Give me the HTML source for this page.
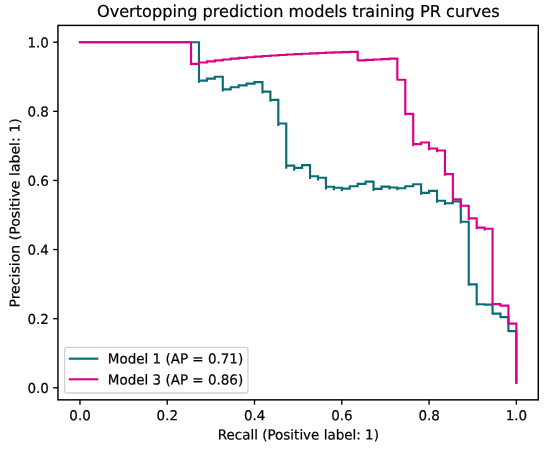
<!DOCTYPE html>
<html lang="en"><head><meta charset="utf-8"><title>Overtopping prediction models training PR curves</title>
<style>html,body{margin:0;padding:0;background:#fff}body{width:550px;height:449px;overflow:hidden}</style></head>
<body>
<svg width="550" height="449" viewBox="0 0 550 449" style="display:block;font-family:'DejaVu Sans','Liberation Sans',sans-serif">
<rect width="550" height="449" fill="#fff"/>
<path d="M79.95,42.20 L87.88,42.20 L95.82,42.20 L103.75,42.20 L111.69,42.20 L119.62,42.20 L127.56,42.20 L135.49,42.20 L143.43,42.20 L151.36,42.20 L159.30,42.20 L167.23,42.20 L175.16,42.20 L183.10,42.20 L191.03,42.20 L198.97,42.20 L198.97,82.86 L198.97,80.60 L206.90,80.60 L206.90,78.58 L214.84,78.58 L214.84,76.76 L222.77,76.76 L222.77,91.57 L222.77,89.33 L230.71,89.33 L230.71,87.28 L238.64,87.28 L238.64,85.40 L246.58,85.40 L246.58,83.67 L254.51,83.67 L254.51,82.08 L262.44,82.08 L262.44,93.40 L262.44,91.57 L270.38,91.57 L270.38,101.79 L270.38,99.80 L278.31,99.80 L278.31,125.98 L278.31,123.52 L286.25,123.52 L286.25,168.64 L286.25,165.63 L294.18,165.63 L294.18,170.80 L294.18,167.87 L302.12,167.87 L302.12,165.08 L310.05,165.08 L310.05,179.00 L310.05,176.21 L317.99,176.21 L317.99,180.44 L317.99,177.73 L325.92,177.73 L325.92,189.40 L325.92,186.72 L333.86,186.72 L333.86,190.31 L333.86,187.72 L341.79,187.72 L341.79,191.17 L341.79,188.64 L349.72,188.64 L349.72,186.20 L357.66,186.20 L357.66,183.84 L365.59,183.84 L365.59,181.55 L373.53,181.55 L373.53,191.07 L373.53,188.82 L381.46,188.82 L381.46,186.63 L389.40,186.63 L389.40,189.59 L389.40,187.45 L397.33,187.45 L397.33,190.31 L397.33,188.23 L405.27,188.23 L405.27,186.20 L413.20,186.20 L413.20,184.23 L421.14,184.23 L421.14,194.80 L421.14,192.85 L429.07,192.85 L429.07,190.94 L437.00,190.94 L437.00,202.66 L437.00,200.77 L444.94,200.77 L444.94,205.07 L444.94,203.22 L452.87,203.22 L452.87,201.41 L460.81,201.41 L460.81,223.55 L460.81,221.78 L468.74,221.78 L468.74,285.79 L468.74,284.33 L476.68,284.33 L476.68,305.51 L476.68,304.27 L484.61,304.27 L484.61,305.82 L484.61,304.60 L492.55,304.60 L492.55,314.75 L492.55,313.64 L500.48,313.64 L500.48,318.15 L500.48,317.11 L508.42,317.11 L508.42,331.92 L508.42,331.06 L516.35,331.06 L516.35,382.79" fill="none" stroke="#0a6c76" stroke-width="2.15" stroke-linejoin="miter" stroke-linecap="square"/>
<path d="M79.95,42.20 L87.88,42.20 L95.82,42.20 L103.75,42.20 L111.69,42.20 L119.62,42.20 L127.56,42.20 L135.49,42.20 L143.43,42.20 L151.36,42.20 L159.30,42.20 L167.23,42.20 L175.16,42.20 L183.10,42.20 L191.03,42.20 L191.03,65.24 L191.03,63.80 L198.97,63.80 L198.97,62.53 L206.90,62.53 L206.90,61.40 L214.84,61.40 L214.84,60.39 L222.77,60.39 L222.77,59.48 L230.71,59.48 L230.71,58.66 L238.64,58.66 L238.64,57.91 L246.58,57.91 L246.58,57.23 L254.51,57.23 L254.51,56.60 L262.44,56.60 L262.44,56.02 L270.38,56.02 L270.38,55.49 L278.31,55.49 L278.31,55.00 L286.25,55.00 L286.25,54.54 L294.18,54.54 L294.18,54.12 L302.12,54.12 L302.12,53.72 L310.05,53.72 L310.05,53.35 L317.99,53.35 L317.99,53.00 L325.92,53.00 L325.92,52.67 L333.86,52.67 L333.86,52.36 L341.79,52.36 L341.79,52.07 L349.72,52.07 L349.72,51.80 L357.66,51.80 L357.66,60.88 L357.66,60.39 L365.59,60.39 L365.59,59.92 L373.53,59.92 L373.53,59.48 L381.46,59.48 L381.46,59.06 L389.40,59.06 L389.40,58.66 L397.33,58.66 L397.33,80.60 L397.33,79.77 L405.27,79.77 L405.27,115.31 L405.27,113.93 L413.20,113.93 L413.20,145.88 L413.20,144.18 L421.14,144.18 L421.14,142.54 L429.07,142.54 L429.07,150.20 L429.07,148.54 L437.00,148.54 L437.00,152.16 L437.00,150.52 L444.94,150.52 L444.94,175.83 L444.94,174.07 L452.87,174.07 L452.87,201.10 L452.87,199.29 L460.81,199.29 L460.81,207.49 L460.81,205.71 L468.74,205.71 L468.74,220.13 L468.74,218.39 L476.68,218.39 L476.68,229.27 L476.68,227.57 L484.61,227.57 L484.61,230.43 L484.61,228.76 L492.55,228.76 L492.55,305.36 L492.55,304.16 L500.48,304.16 L500.48,306.75 L500.48,305.59 L508.42,305.59 L508.42,324.54 L508.42,323.58 L516.35,323.58 L516.35,382.79" fill="none" stroke="#dc0088" stroke-width="2.15" stroke-linejoin="miter" stroke-linecap="square"/>
<line x1="79.95" y1="399.85" x2="79.95" y2="404.65000000000003" stroke="#000" stroke-width="1.35"/>
<text transform="translate(80.05,420.25) scale(0.981,1) rotate(0.03)" font-size="13.75" text-anchor="middle" fill="#000" stroke="#000" stroke-width="0.22">0.0</text>
<line x1="53.150000000000006" y1="387.80" x2="57.95" y2="387.80" stroke="#000" stroke-width="1.35"/>
<text transform="translate(48.90,393.05) scale(0.981,1) rotate(0.03)" font-size="13.75" text-anchor="end" fill="#000" stroke="#000" stroke-width="0.22">0.0</text>
<line x1="167.23" y1="399.85" x2="167.23" y2="404.65000000000003" stroke="#000" stroke-width="1.35"/>
<text transform="translate(167.33,420.25) scale(0.981,1) rotate(0.03)" font-size="13.75" text-anchor="middle" fill="#000" stroke="#000" stroke-width="0.22">0.2</text>
<line x1="53.150000000000006" y1="318.68" x2="57.95" y2="318.68" stroke="#000" stroke-width="1.35"/>
<text transform="translate(48.90,323.93) scale(0.981,1) rotate(0.03)" font-size="13.75" text-anchor="end" fill="#000" stroke="#000" stroke-width="0.22">0.2</text>
<line x1="254.51" y1="399.85" x2="254.51" y2="404.65000000000003" stroke="#000" stroke-width="1.35"/>
<text transform="translate(254.61,420.25) scale(0.981,1) rotate(0.03)" font-size="13.75" text-anchor="middle" fill="#000" stroke="#000" stroke-width="0.22">0.4</text>
<line x1="53.150000000000006" y1="249.56" x2="57.95" y2="249.56" stroke="#000" stroke-width="1.35"/>
<text transform="translate(48.90,254.81) scale(0.981,1) rotate(0.03)" font-size="13.75" text-anchor="end" fill="#000" stroke="#000" stroke-width="0.22">0.4</text>
<line x1="341.79" y1="399.85" x2="341.79" y2="404.65000000000003" stroke="#000" stroke-width="1.35"/>
<text transform="translate(341.89,420.25) scale(0.981,1) rotate(0.03)" font-size="13.75" text-anchor="middle" fill="#000" stroke="#000" stroke-width="0.22">0.6</text>
<line x1="53.150000000000006" y1="180.44" x2="57.95" y2="180.44" stroke="#000" stroke-width="1.35"/>
<text transform="translate(48.90,185.69) scale(0.981,1) rotate(0.03)" font-size="13.75" text-anchor="end" fill="#000" stroke="#000" stroke-width="0.22">0.6</text>
<line x1="429.07" y1="399.85" x2="429.07" y2="404.65000000000003" stroke="#000" stroke-width="1.35"/>
<text transform="translate(429.17,420.25) scale(0.981,1) rotate(0.03)" font-size="13.75" text-anchor="middle" fill="#000" stroke="#000" stroke-width="0.22">0.8</text>
<line x1="53.150000000000006" y1="111.32" x2="57.95" y2="111.32" stroke="#000" stroke-width="1.35"/>
<text transform="translate(48.90,116.57) scale(0.981,1) rotate(0.03)" font-size="13.75" text-anchor="end" fill="#000" stroke="#000" stroke-width="0.22">0.8</text>
<line x1="516.35" y1="399.85" x2="516.35" y2="404.65000000000003" stroke="#000" stroke-width="1.35"/>
<text transform="translate(516.45,420.25) scale(0.981,1) rotate(0.03)" font-size="13.75" text-anchor="middle" fill="#000" stroke="#000" stroke-width="0.22">1.0</text>
<line x1="53.150000000000006" y1="42.20" x2="57.95" y2="42.20" stroke="#000" stroke-width="1.35"/>
<text transform="translate(48.90,47.45) scale(0.981,1) rotate(0.03)" font-size="13.75" text-anchor="end" fill="#000" stroke="#000" stroke-width="0.22">1.0</text>
<rect x="57.95" y="25.4" width="480.35" height="374.45" fill="none" stroke="#000" stroke-width="1.45"/>
<text transform="translate(298.30,439.50) scale(0.981,1) rotate(0.03)" font-size="13.75" text-anchor="middle" fill="#000" stroke="#000" stroke-width="0.22">Recall (Positive label: 1)</text>
<text transform="translate(19.50,212.95) scale(0.959,1) rotate(-89.97)" font-size="14.09" text-anchor="middle" fill="#000" stroke="#000" stroke-width="0.22">Precision (Positive label: 1)</text>
<text transform="translate(298.30,17.00) scale(0.9785,1) rotate(0.03)" font-size="16.5" text-anchor="middle" fill="#000" stroke="#000" stroke-width="0.22">Overtopping prediction models training PR curves</text>
<rect x="64.6" y="347.4" width="183.4" height="45.6" rx="2.6" ry="2.6" fill="#fff" fill-opacity="0.8" stroke="#ccc" stroke-opacity="0.9" stroke-width="1.3"/>
<line x1="69.9" y1="358.7" x2="97.2" y2="358.7" stroke="#0a6c76" stroke-width="2.15" stroke-linecap="square"/>
<line x1="69.9" y1="379.3" x2="97.2" y2="379.3" stroke="#dc0088" stroke-width="2.15" stroke-linecap="square"/>
<text transform="translate(107.80,363.50) scale(0.981,1) rotate(0.03)" font-size="13.75" text-anchor="start" fill="#000" stroke="#000" stroke-width="0.22">Model 1 (AP = 0.71)</text>
<text transform="translate(107.80,384.40) scale(0.981,1) rotate(0.03)" font-size="13.75" text-anchor="start" fill="#000" stroke="#000" stroke-width="0.22">Model 3 (AP = 0.86)</text>
</svg>
</body></html>
